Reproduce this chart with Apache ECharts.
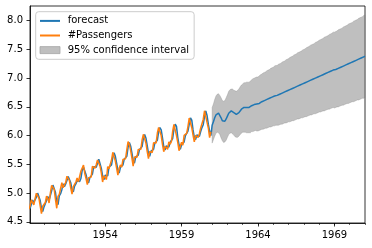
<!DOCTYPE html>
<html><head><meta charset="utf-8">
<script src="https://cdn.jsdelivr.net/npm/echarts@6/dist/echarts.min.js"></script>
<style>html,body{margin:0;padding:0;background:#fff}#c{width:372px;height:248px}</style>
</head><body><div id="c"></div>
<script>
// Month index 0 = 1949-01
const startYear = 1949;
const xMin = 1, xMax = 264;
const xTickYears = [1954, 1959, 1964, 1969];
const yTicks = [4.5, 5.0, 5.5, 6.0, 6.5, 7.0, 7.5, 8.0];

// log(#Passengers), 1949-01 .. 1960-12
const passengers = [
4.718,4.771,4.883,4.860,4.796,4.905,4.997,4.997,4.913,4.779,4.644,4.771,
4.745,4.836,4.949,4.905,4.828,5.004,5.136,5.136,5.063,4.890,4.736,4.942,
4.977,5.011,5.182,5.094,5.147,5.182,5.293,5.293,5.215,5.088,4.984,5.112,
5.142,5.193,5.263,5.198,5.209,5.384,5.438,5.489,5.342,5.252,5.147,5.268,
5.278,5.278,5.464,5.460,5.434,5.493,5.576,5.606,5.468,5.352,5.193,5.303,
5.318,5.236,5.460,5.425,5.455,5.576,5.710,5.680,5.557,5.434,5.313,5.434,
5.489,5.451,5.587,5.595,5.598,5.753,5.897,5.849,5.743,5.613,5.468,5.628,
5.649,5.624,5.759,5.746,5.762,5.924,6.023,6.004,5.872,5.724,5.602,5.724,
5.753,5.707,5.875,5.852,5.872,6.045,6.142,6.146,6.001,5.849,5.720,5.817,
5.829,5.762,5.892,5.852,5.894,6.075,6.196,6.225,6.001,5.883,5.737,5.820,
5.886,5.835,6.006,5.981,6.040,6.157,6.306,6.326,6.138,6.009,5.892,6.004,
6.033,5.969,6.038,6.133,6.157,6.282,6.433,6.407,6.230,6.133,5.966,6.068];

// in-sample fitted values, 1949-02 .. 1960-12
const fitted = [
4.73,4.80,4.88,4.84,4.83,4.93,5.00,4.97,4.87,4.74,4.68,
4.76,4.77,4.87,4.94,4.88,4.88,5.04,5.14,5.11,5.01,4.84,4.80,
4.95,4.99,5.06,5.16,5.11,5.16,5.22,5.29,5.27,5.18,5.06,5.02,
5.12,5.16,5.21,5.24,5.20,5.26,5.40,5.45,5.44,5.32,5.22,5.18,
5.27,5.28,5.33,5.46,5.45,5.45,5.52,5.59,5.56,5.43,5.30,5.23,
5.31,5.29,5.30,5.45,5.43,5.49,5.62,5.70,5.64,5.52,5.40,5.35,
5.45,5.48,5.49,5.59,5.60,5.64,5.80,5.88,5.82,5.70,5.57,5.52,
5.63,5.64,5.66,5.76,5.75,5.81,5.95,6.02,5.96,5.83,5.69,5.64,
5.73,5.74,5.76,5.87,5.86,5.92,6.07,6.14,6.10,5.96,5.81,5.75,
5.82,5.81,5.80,5.88,5.86,5.95,6.11,6.20,6.16,5.97,5.84,5.76,
5.84,5.87,5.89,6.00,6.00,6.08,6.20,6.31,6.27,6.10,5.97,5.93,
6.01,6.01,5.99,6.07,6.14,6.19,6.33,6.43,6.35,6.20,6.08,6.00];

// out-of-sample forecast, 1961-01 .. 1971-01
const forecast = [
6.18,6.24,6.31,6.36,6.39,6.39,6.36,6.31,6.26,6.24,6.25,6.29,
6.34,6.39,6.42,6.43,6.42,6.40,6.38,6.37,6.38,6.40,6.43,6.46,
6.48,6.49,6.49,6.49,6.49,6.49,6.50,6.52,6.53,6.54,6.55,6.55,
6.55,6.56,6.58,6.59,6.60,6.61,6.62,6.63,6.64,6.65,6.66,6.67,
6.68,6.69,6.70,6.70,6.71,6.72,6.73,6.74,6.75,6.76,6.77,6.78,
6.79,6.80,6.81,6.82,6.83,6.84,6.85,6.86,6.87,6.88,6.89,6.90,
6.91,6.92,6.93,6.94,6.95,6.96,6.97,6.98,6.99,7.00,7.01,7.02,
7.03,7.04,7.05,7.06,7.07,7.08,7.09,7.10,7.11,7.12,7.13,7.14,
7.14,7.15,7.16,7.17,7.18,7.19,7.20,7.21,7.22,7.23,7.24,7.25,
7.26,7.27,7.28,7.29,7.30,7.31,7.32,7.33,7.34,7.35,7.36,7.37,
7.38];

const ciUpper = [
6.49,6.55,6.63,6.69,6.72,6.73,6.70,6.66,6.61,6.60,6.61,6.66,
6.71,6.77,6.80,6.81,6.81,6.79,6.78,6.77,6.79,6.81,6.85,6.88,
6.90,6.92,6.92,6.93,6.93,6.93,6.95,6.97,6.99,7.00,7.01,7.02,
7.02,7.04,7.06,7.07,7.09,7.10,7.11,7.13,7.14,7.15,7.17,7.18,
7.19,7.21,7.22,7.22,7.24,7.25,7.26,7.28,7.29,7.30,7.32,7.33,
7.34,7.36,7.37,7.38,7.40,7.41,7.42,7.44,7.45,7.46,7.47,7.49,
7.50,7.51,7.53,7.54,7.55,7.57,7.58,7.59,7.60,7.62,7.63,7.64,
7.66,7.67,7.68,7.69,7.71,7.72,7.73,7.74,7.76,7.77,7.78,7.80,
7.80,7.81,7.82,7.84,7.85,7.86,7.87,7.89,7.90,7.91,7.92,7.94,
7.95,7.96,7.97,7.99,8.00,8.01,8.02,8.04,8.05,8.06,8.07,8.09,
8.10];

const ciLower = [
5.87,5.93,5.99,6.04,6.06,6.05,6.02,5.96,5.91,5.88,5.89,5.92,
5.97,6.02,6.04,6.05,6.03,6.01,5.98,5.97,5.97,5.99,6.02,6.04,
6.06,6.06,6.06,6.05,6.05,6.05,6.05,6.07,6.07,6.08,6.09,6.08,
6.08,6.09,6.10,6.11,6.11,6.12,6.13,6.13,6.14,6.15,6.15,6.16,
6.17,6.17,6.18,6.18,6.18,6.19,6.20,6.20,6.21,6.22,6.22,6.23,
6.24,6.24,6.25,6.26,6.26,6.27,6.28,6.29,6.29,6.30,6.31,6.31,
6.32,6.33,6.33,6.34,6.35,6.36,6.36,6.37,6.38,6.38,6.39,6.40,
6.41,6.41,6.42,6.43,6.43,6.44,6.45,6.46,6.46,6.47,6.48,6.49,
6.48,6.49,6.50,6.50,6.51,6.52,6.53,6.53,6.54,6.55,6.56,6.56,
6.57,6.58,6.59,6.59,6.60,6.61,6.62,6.62,6.63,6.64,6.65,6.65,
6.66];

const FONT = 'DejaVu Sans';
const forecastStart = 144;
const blueData = fitted.map((v, i) => [i + 1, v]).concat(forecast.map((v, i) => [i + forecastStart, v]));
const orangeData = passengers.map((v, i) => [i, v]);
const ciData = ciLower.map((v, i) => [i + forecastStart, v, ciUpper[i]]);
const majorX = xTickYears.map(y => (y - startYear) * 12);
const minorX = [];
for (let y = 1950; y <= 1971; y++) minorX.push((y - startYear) * 12);

const chart = echarts.init(document.getElementById('c'), null, {renderer: 'canvas'});
chart.setOption({
  animation: false,
  backgroundColor: '#fff',
  grid: {left: 30, right: 7, top: 6, bottom: 25, show: true, borderColor: '#000', borderWidth: 0.8, backgroundColor: 'transparent'},
  legend: {
    orient: 'vertical', left: 35.7, top: 11.7,
    padding: [2.7, 5, 2.7, 3.3],
    itemWidth: 20, itemHeight: 7, itemGap: 1.6,
    backgroundColor: 'rgba(255,255,255,0.8)', borderColor: '#cccccc', borderWidth: 1, borderRadius: 3,
    textStyle: {fontFamily: FONT, fontSize: 10, color: '#000', lineHeight: 13, padding: [0, 0, 0, 2.7]},
    data: [
      {name: 'forecast', itemStyle: {opacity: 0}},
      {name: '#Passengers', itemStyle: {opacity: 0}},
      {name: '95% confidence interval', icon: 'rect', itemStyle: {color: '#bfbfbf', borderColor: '#a6a6a6', borderWidth: 0.8}}
    ]
  },
  xAxis: [{
    type: 'value', min: xMin, max: xMax,
    axisLine: {show: true, lineStyle: {color: '#000', width: 0.8}},
    axisTick: {show: true, length: 3.5, lineStyle: {color: '#000', width: 0.8}, customValues: majorX},
    axisLabel: {show: true, customValues: majorX, margin: 7, fontFamily: FONT, fontSize: 10, color: '#000',
      formatter: v => String(Math.round(startYear + v / 12))},
    splitLine: {show: false}
  }, {
    type: 'value', min: xMin, max: xMax, position: 'bottom', gridIndex: 0,
    axisLine: {show: false},
    axisTick: {show: true, length: 2, lineStyle: {color: '#000', width: 0.6}, customValues: minorX},
    axisLabel: {show: false},
    splitLine: {show: false}
  }],
  yAxis: {
    type: 'value', min: 4.48, max: 8.255,
    axisLine: {show: true, lineStyle: {color: '#000', width: 0.8}},
    axisTick: {show: true, length: 3.5, lineStyle: {color: '#000', width: 0.8}, customValues: yTicks},
    axisLabel: {show: true, customValues: yTicks, margin: 7, fontFamily: FONT, fontSize: 10, color: '#000',
      formatter: v => v.toFixed(1)},
    splitLine: {show: false}
  },
  series: [
    {name: '95% confidence interval', type: 'custom', data: ciData, silent: true,
     itemStyle: {color: '#bfbfbf'},
     encode: {x: 0, y: [1, 2]},
     renderItem: function (params, api) {
       if (params.dataIndex !== 0) return null;
       const pts = [];
       for (let i = 0; i < ciData.length; i++) pts.push(api.coord([ciData[i][0], ciData[i][2]]));
       for (let i = ciData.length - 1; i >= 0; i--) pts.push(api.coord([ciData[i][0], ciData[i][1]]));
       return {type: 'polygon', shape: {points: pts},
               style: {fill: 'rgba(128,128,128,0.5)', stroke: 'rgba(128,128,128,0.5)', lineWidth: 0.6}};
     }},
    {name: 'forecast', type: 'line', data: blueData, symbol: 'none', color: '#1f77b4',
     lineStyle: {color: '#1f77b4', width: 1.5}},
    {name: '#Passengers', type: 'line', data: orangeData, symbol: 'none', color: '#ff7f0e',
     lineStyle: {color: '#ff7f0e', width: 1.5}}
  ]
});
</script></body></html>
